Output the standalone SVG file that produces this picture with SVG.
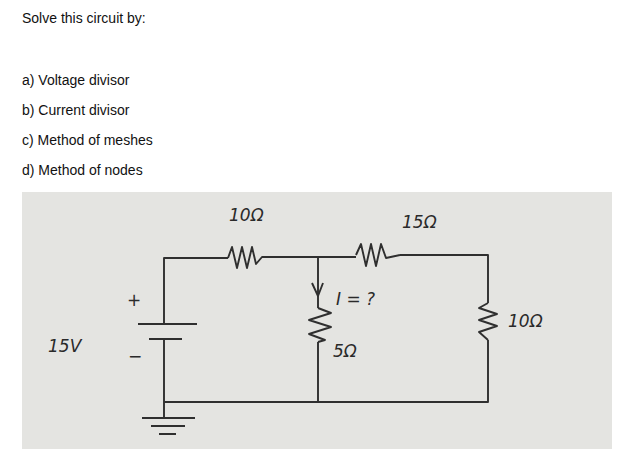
<svg xmlns="http://www.w3.org/2000/svg" width="625" height="469" viewBox="0 0 625 469">
<style>
.t{font-family:"Liberation Sans",Arial,sans-serif;font-size:14px;fill:#111}
.h{font-family:"DejaVu Sans","Liberation Sans",sans-serif;font-style:italic;font-size:17px;fill:#2a2a2a}
.w{fill:none;stroke:#2f2f2f;stroke-width:1.9;stroke-linejoin:round}
</style>
<rect width="625" height="469" fill="#fff"/>
<g id="question">
<text class="t" x="22" y="23">Solve this circuit by:</text>
<text class="t" x="22" y="85">a) Voltage divisor</text>
<text class="t" x="22" y="115">b) Current divisor</text>
<text class="t" x="22" y="145">c) Method of meshes</text>
<text class="t" x="22" y="175">d) Method of nodes</text>
</g>
<rect id="photo" x="22" y="192" width="590" height="257" fill="#e4e4e1"/>
<g id="connectors">
<path class="w" d="M164,324 V258 H228 M273,257 H356 M400,255 H488 V303 M488,340 V402 H164 V339 M164,402 V418 M318,257 V308 M318,342 V402"/>
<path class="w" d="M312,283 L318,296 L323,283"/>
</g>
<g id="R1"><path class="w" d="M228,258 L232,247 L237,268 L242,247 L247,268 L252,247 L256,264 L262,257 L273,257"/><text class="h" x="229" y="221">10Ω</text></g>
<g id="R2"><path class="w" d="M356,255 L361,244 L366,266 L371,244 L376,266 L381,244 L386,258 L400,255"/><text class="h" x="402" y="228">15Ω</text></g>
<g id="R3"><path class="w" d="M318,308 L331,313 L309,320 L331,327 L309,334 L325,340 L318,342"/><text class="h" x="333" y="357">5Ω</text><text class="h" x="336" y="305">I = ?</text></g>
<g id="R4"><path class="w" d="M488,303 L479,308 L497,314 L479,320 L497,326 L479,332 L488,340"/><text class="h" x="508" y="327">10Ω</text></g>
<g id="battery"><path class="w" d="M138,324 H197 M149,339 H182"/><text class="h" x="127" y="306">+</text><text class="h" x="128" y="362">−</text><text class="h" x="48" y="352">15V</text></g>
<g id="ground"><path class="w" d="M142,418 H195 M151,426 H185 M159,434 H176"/></g>
</svg>
